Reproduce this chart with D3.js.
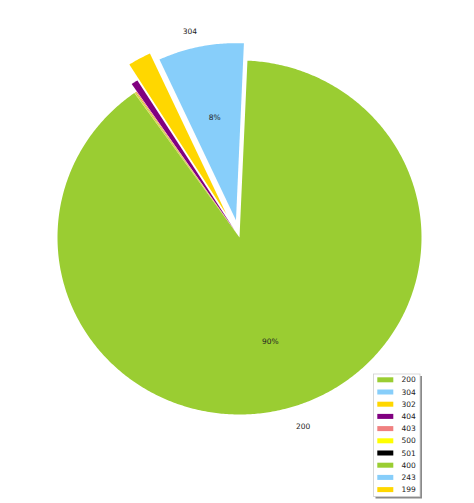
<!DOCTYPE html>
<html>
<head>
<meta charset="utf-8">
<script src="https://cdn.jsdelivr.net/npm/d3@7"></script>
<style>
  body { margin: 0; background: #fff; }
  text { font-family: "DejaVu Sans", sans-serif; }
</style>
</head>
<body>
<div id="chart"></div>
<script>
const layout = {
    width: 474,
    height: 503,
    cx: 239.5,
    cy: 237.5,
    rx: 182,
    ry: 177,
    fontSize: 7.5,
    labelShift: 2
};

// status codes and their share of requests (percent)
var codes = ["200", "304", "302", "404", "403", "500", "501", "400", "243", "199"];
var shares = [89.5, 7.6, 2.05, 0.6, 0.1, 0.05, 0.02, 0.03, 0.02, 0.03];
var colors = ["yellowgreen", "lightskyblue", "gold", "purple", "lightcoral",
              "yellow", "black", "yellowgreen", "lightskyblue", "gold"];
var explode = [0, 0.1, 0.15, 0.05, 0, 0, 0, 0, 0, 0];
var startDeg = 125.3; // matplotlib style, counter clockwise from 3 o'clock

var slices = codes.map((c, i) => ({code: c, value: shares[i], color: colors[i], explode: explode[i]}));

let svg = d3.select("#chart").append("svg")
    .attr("width", layout.width)
    .attr("height", layout.height);

// scales map the unit circle onto the (slightly squashed) pie
let xScale = d3.scaleLinear().domain([-1, 1]).range([layout.cx - layout.rx, layout.cx + layout.rx]);
let yScale = d3.scaleLinear().domain([-1, 1]).range([layout.cy + layout.ry, layout.cy - layout.ry]);

const toRad = d => d * Math.PI / 180;
// d3 angles go clockwise from 12 o'clock, so counter clockwise means decreasing
let d3Start = toRad(90 - startDeg);
let pie = d3.pie()
    .sort(null)
    .value(d => d.value)
    .startAngle(d3Start)
    .endAngle(d3Start - 2 * Math.PI);

let arcs = pie(slices);

const midAngle = d => (d.startAngle + d.endAngle) / 2;

// draw a wedge through the scales by sampling the arc
function wedgePath(d) {
    let mid = midAngle(d);
    let ox = d.data.explode * Math.sin(mid);
    let oy = d.data.explode * Math.cos(mid);
    let n = Math.max(2, Math.ceil(Math.abs(d.endAngle - d.startAngle) / 0.01));
    let pts = [[xScale(ox), yScale(oy)]];
    for (let i = 0; i <= n; i++) {
        let a = d.startAngle + (d.endAngle - d.startAngle) * i / n;
        pts.push([xScale(ox + Math.sin(a)), yScale(oy + Math.cos(a))]);
    }
    return d3.line()(pts) + "Z";
}

svg.append("g").selectAll("path")
    .data(arcs)
    .enter().append("path")
    .attr("d", wedgePath)
    .attr("fill", d => d.data.color);

// outer labels and percentages only for the big slices
let big = arcs.filter(d => d.data.value > 5);

svg.append("g").selectAll("text")
    .data(big)
    .enter().append("text")
    .attr("x", d => xScale((d.data.explode + 1.1) * Math.sin(midAngle(d))))
    .attr("y", d => yScale((d.data.explode + 1.1) * Math.cos(midAngle(d))) + layout.labelShift)
    .attr("text-anchor", d => Math.sin(midAngle(d)) < 0 ? "end" : "start")
    .attr("dominant-baseline", "central")
    .attr("font-size", layout.fontSize)
    .attr("fill", "#222")
    .text(d => d.data.code);

svg.append("g").selectAll("text")
    .data(big)
    .enter().append("text")
    .attr("x", d => xScale((d.data.explode + 0.6) * Math.sin(midAngle(d))))
    .attr("y", d => yScale((d.data.explode + 0.6) * Math.cos(midAngle(d))) + layout.labelShift)
    .attr("text-anchor", "middle")
    .attr("dominant-baseline", "central")
    .attr("font-size", layout.fontSize)
    .attr("fill", "#222")
    .text(d => Math.round(d.data.value) + "%");

// legend with shadow
const legend = {x: 373.5, y: 374, w: 46.5, h: 122.5, rowStart: 379.8, rowStep: 12.2};

svg.append("rect")
    .attr("x", legend.x + 2).attr("y", legend.y + 2)
    .attr("width", legend.w).attr("height", legend.h)
    .attr("fill", "#8a8a8a");
svg.append("rect")
    .attr("x", legend.x).attr("y", legend.y)
    .attr("width", legend.w).attr("height", legend.h)
    .attr("fill", "white")
    .attr("stroke", "#cfcfcf")
    .attr("stroke-width", 0.8);

let rowScale = d3.scaleLinear().domain([0, 1]).range([legend.rowStart, legend.rowStart + legend.rowStep]);

let rows = svg.append("g").selectAll("g")
    .data(slices)
    .enter().append("g")
    .attr("transform", (d, i) => `translate(0,${rowScale(i)})`);

rows.append("rect")
    .attr("x", 377.3)
    .attr("y", -2.5)
    .attr("width", 16)
    .attr("height", 5)
    .attr("fill", d => d.color);

rows.append("text")
    .attr("x", 401.5)
    .attr("y", 0)
    .attr("dominant-baseline", "central")
    .attr("font-size", layout.fontSize)
    .attr("fill", "#222")
    .text(d => d.code);
</script>
</body>
</html>
